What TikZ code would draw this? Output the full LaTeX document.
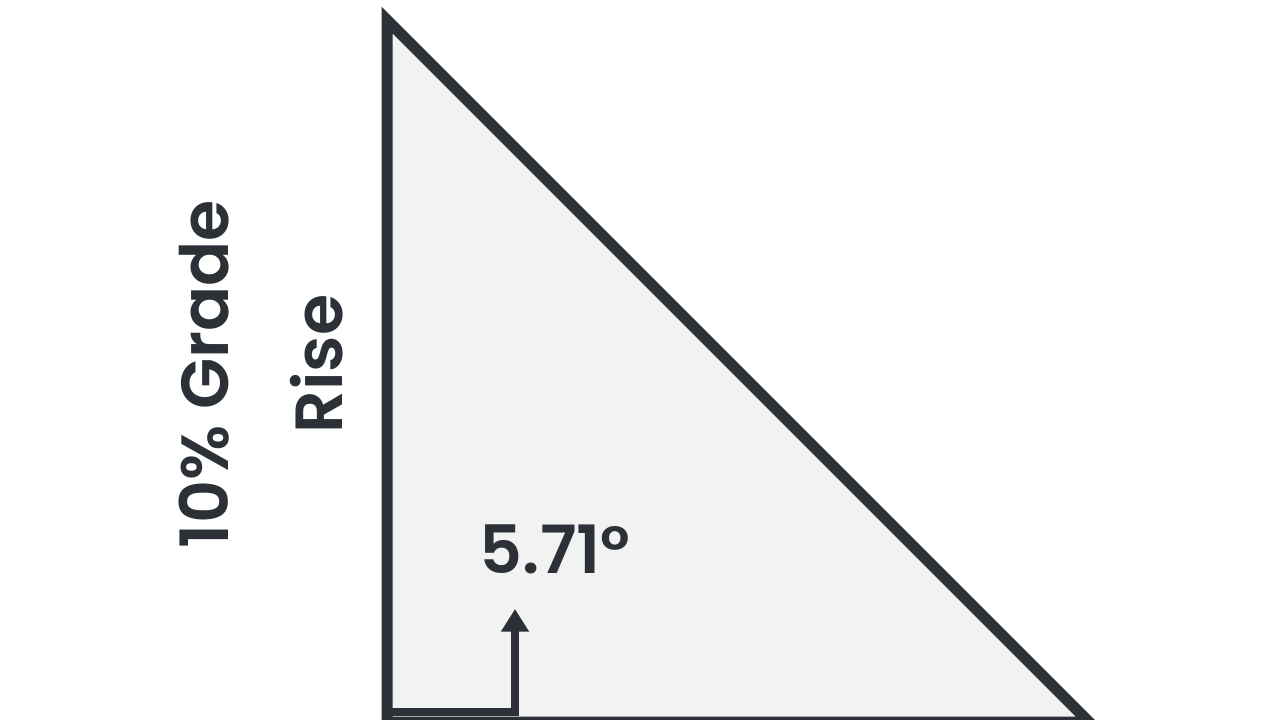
\documentclass[tikz,border=0pt]{standalone}
\usepackage{fontspec}
\setmainfont{Poppins}[BoldFont={Poppins SemiBold}]
\usetikzlibrary{arrows.meta}
\definecolor{slate}{RGB}{44,49,55}
\definecolor{paper}{RGB}{242,242,242}

\begin{document}
\begin{tikzpicture}[x=0.75pt,y=0.75pt,yscale=-1,xscale=1,
	label text/.style={text=slate,inner sep=0pt,font=\fontsize{50}{58}\selectfont\bfseries}]
\useasboundingbox (0,0) rectangle (1280,720);
\clip (0,0) rectangle (1280,720);

%Shape: Right Triangle
	\draw [color=slate,fill=paper,line width=8.25,miter limit=20]  (387,20) -- (1089,722) -- (387,722) -- cycle ;
%Straight Lines: angle marker
	\coordinate (corner) at (387,712);
	\coordinate (tip) at (515,609);
	\draw [color=slate,line width=5.5,-{Triangle[width=20,length=17]}]   (corner) -| (tip) ;

% Text Node
	\draw (228,374) node (grade) [label text,anchor=base,rotate=90] {10\% Grade};
% Text Node
	\draw (342,364) node (rise) [label text,anchor=base,rotate=90] {Rise};
% Text Node
	\draw (555,573) node (angle) [label text,anchor=base] {5.71°};

\end{tikzpicture}
\end{document}
